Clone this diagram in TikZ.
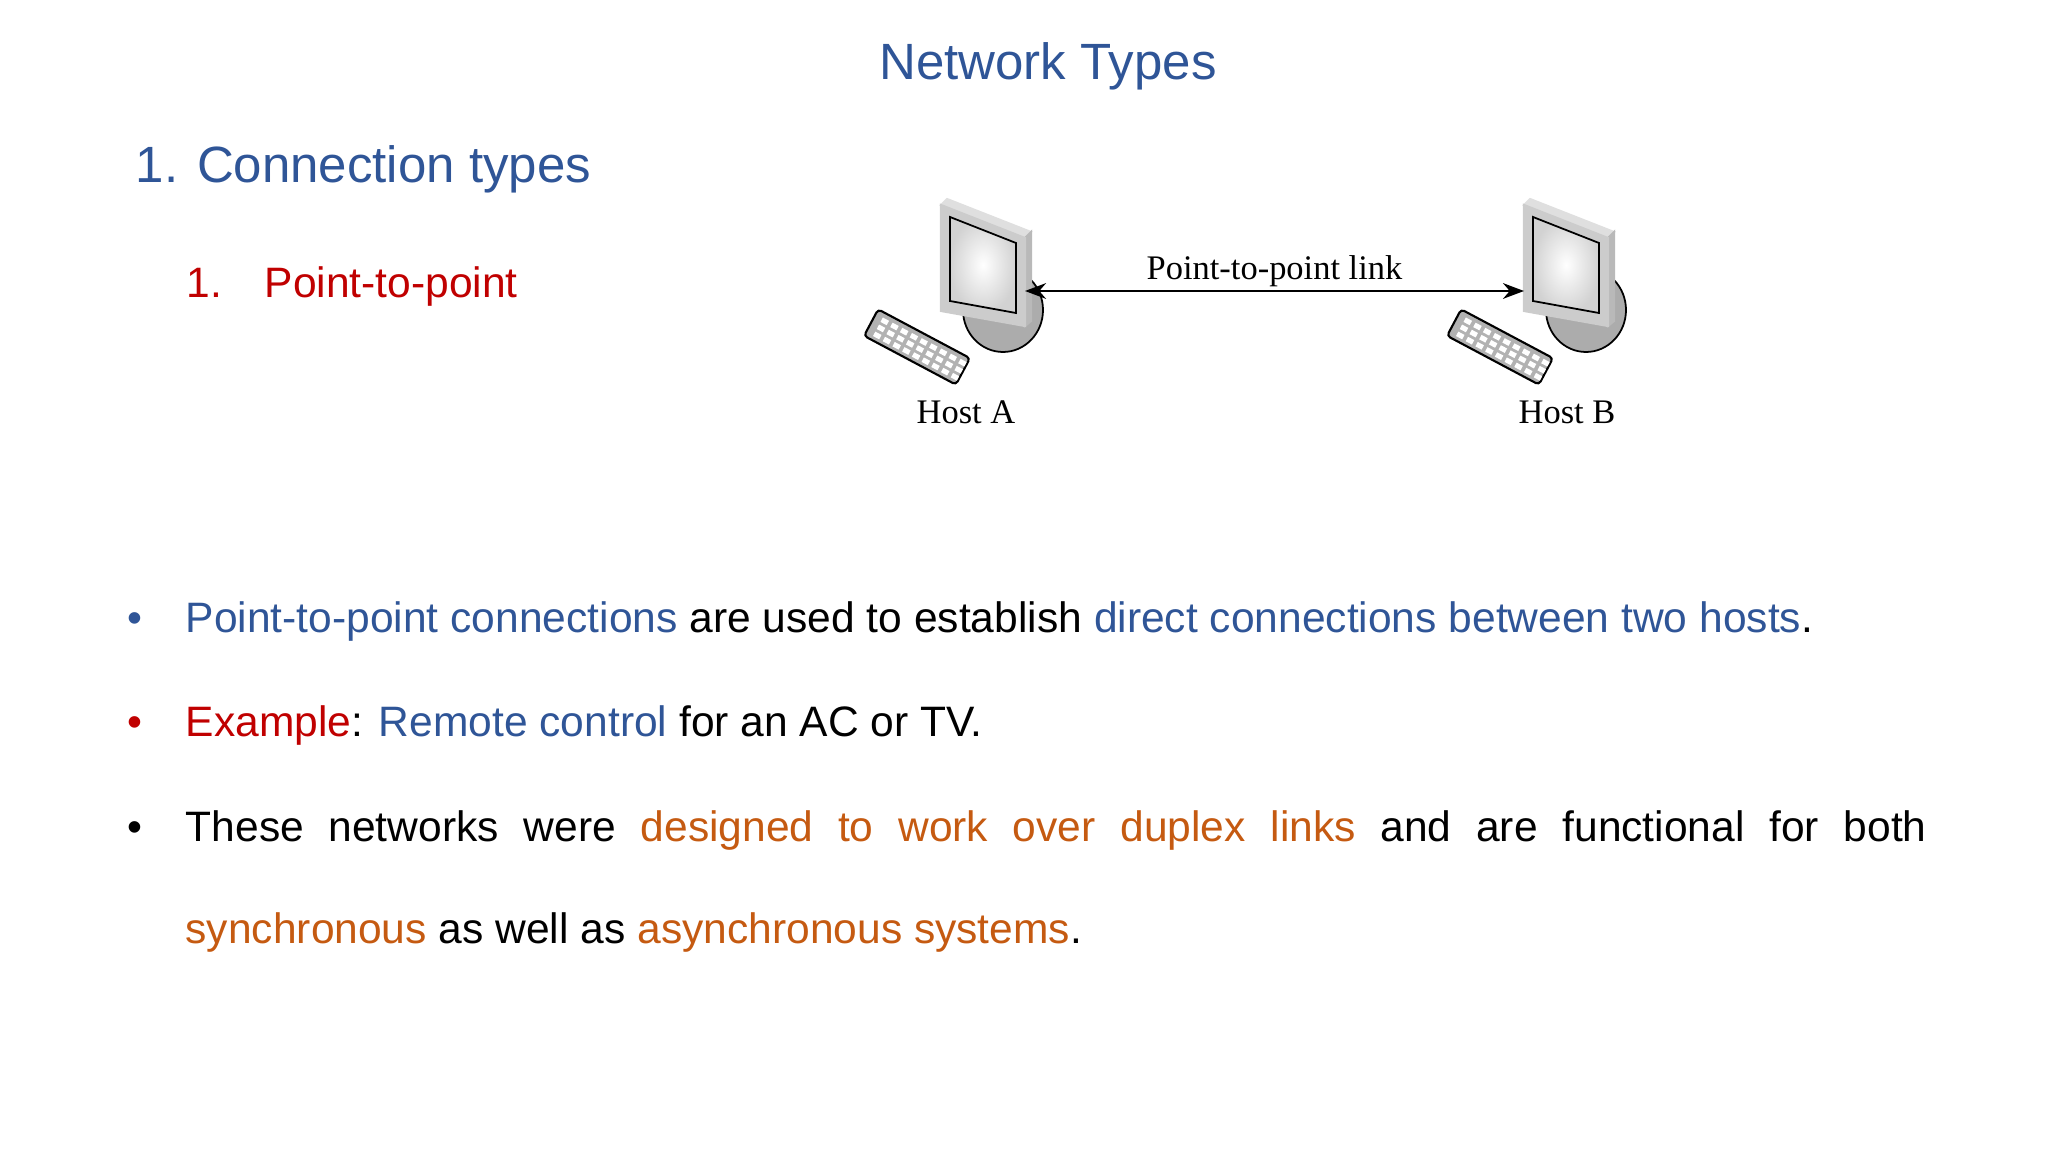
\documentclass[tikz,border=0pt]{standalone}
\usepackage{fontspec}
\setmainfont{Liberation Sans}
\newfontfamily\figfont{Liberation Serif}
\usepackage{ragged2e}
\usetikzlibrary{arrows.meta}

\definecolor{titleblue}{HTML}{2F5597}
\definecolor{pptred}{HTML}{C00000}
\definecolor{pptorange}{HTML}{C55A11}

% one computer: monitor, stand and keyboard, origin at top left of monitor
\newcommand{\hostpc}[3]{%
  \begin{scope}[shift={(#2,#3)}]
    \fill[gray!65, draw=black, line width=0.5pt] (62,105) ellipse (40 and 42);
    \filldraw[gray!25, line width=0.6pt] (0,0) -- (6,-6) -- (90,27) -- (84,33) -- cycle;
    \filldraw[gray!55, line width=0.6pt] (84,33) -- (90,27) -- (90,116) -- (84,121) -- cycle;
    \filldraw[gray!40, line width=0.6pt] (0,0) -- (84,33) -- (84,121) -- (0,106) -- cycle;
    \shade[inner color=white, outer color=gray!35, draw=black, line width=0.5pt]
      (9,12) -- (75,38) -- (75,108) -- (9,96) -- cycle;
    \coordinate (#1-l) at (0,86);
    \coordinate (#1-r) at (84,86);
    \begin{scope}[shift={(-24,142)}, rotate=-28]
      \filldraw[fill=gray!60, line width=0.6pt, rounded corners=1pt] (-52,-15) rectangle (52,15);
      \foreach \i in {0,...,8}
        \foreach \j in {0,...,2}
          \fill[white] (-44+\i*11,-10+\j*8) rectangle ++(7,5);
    \end{scope}
  \end{scope}}

\begin{document}
\begin{tikzpicture}[x=0.01cm, y=-0.01cm,
    heading/.style={text=titleblue, font=\fontsize{14.5}{17}\selectfont},
    body/.style={font=\fontsize{12.1}{14}\selectfont, anchor=base west, inner sep=0pt},
    lbl/.style={font=\figfont\fontsize{9.8}{12}\selectfont, anchor=base, inner sep=0pt}
  ]
  \useasboundingbox (0,0) rectangle (2048,1152);

  \node[heading, anchor=base, inner sep=0pt] (title) at (1048,80) {Network Types};
  \node[heading, anchor=base west, inner sep=0pt] (sec) at (135,183) {1. Connection types};
  \node[body, text=pptred] (num) at (186,298) {1.};
  \node[body, text=pptred] (sub) at (264,298) {Point-to-point};

  % the two hosts
  \hostpc{A}{941}{205}
  \hostpc{B}{1524}{205}
  \node[lbl] (hA) at (966,424) {Host A};
  \node[lbl] (hB) at (1567,424) {Host B};
  \draw[{Stealth[length=6pt]}-{Stealth[length=6pt]}, line width=0.5pt] (A-r) -- (B-l)
    node[lbl, midway, above=1pt] (link) {Point-to-point link};

  % bullets
  \node[body, text=titleblue] (b1) at (127,633) {•};
  \node[body] (t1) at (185,633) {\textcolor{titleblue}{Point-to-point connections} are used to establish \textcolor{titleblue}{direct connections between two hosts}.};
  \node[body, text=pptred] (b2) at (127,736) {•};
  \node[body] (t2) at (185,736) {\textcolor{pptred}{Example}: \textcolor{titleblue}{Remote control} for an AC or TV.};
  \node[body] (b3) at (127,841) {•};
  \node[body] (t3) at (185,841) {\parbox[t]{17.4cm}{\fontsize{12.1}{29.2}\selectfont\justifying\noindent
    \hyphenpenalty=10000\exhyphenpenalty=10000
    These networks were \textcolor{pptorange}{designed to work over duplex links} and are functional for both \textcolor{pptorange}{synchronous} as well as \textcolor{pptorange}{asynchronous systems}.}};
\end{tikzpicture}
\end{document}
